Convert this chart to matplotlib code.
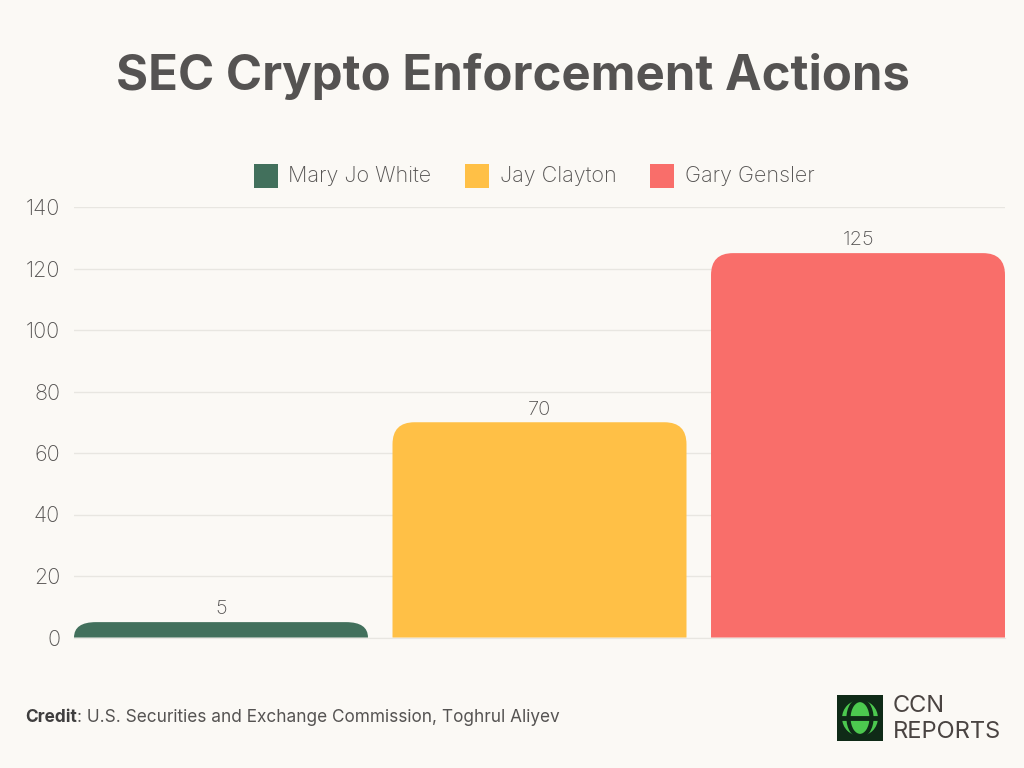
import matplotlib
matplotlib.use("Agg")
import matplotlib.pyplot as plt
from matplotlib.patches import Circle, Ellipse, PathPatch, Rectangle
from matplotlib.path import Path

names = ["Mary Jo White", "Jay Clayton", "Gary Gensler"]
actions = [5, 70, 125]
colors = ["#42705C", "#FFC046", "#F96E6A"]
yticks = [0, 20, 40, 60, 80, 100, 120, 140]

BG = "#FBF9F5"
TEXT = "#555352"
GRID = "#E8E6E1"
FONT = "Inter"

W, H = 1024, 768
plt.rcParams["font.family"] = [FONT, "DejaVu Sans"]


def px_box(left, top, right, bottom):
    """Figure fraction box from pixel edges, y measured from the top."""
    return [left / W, 1 - bottom / H, (right - left) / W, (bottom - top) / H]


def rounded_bar(ax, x, width, height, rx, ry, color):
    """Bar with only the two top corners rounded."""
    ry = min(ry, height)
    left, right = x - width / 2, x + width / 2
    verts = [(left, 0), (left, height - ry), (left, height), (left + rx, height),
             (right - rx, height), (right, height), (right, height - ry),
             (right, 0), (left, 0)]
    codes = [Path.MOVETO, Path.LINETO, Path.CURVE3, Path.CURVE3,
             Path.LINETO, Path.CURVE3, Path.CURVE3,
             Path.LINETO, Path.CLOSEPOLY]
    ax.add_patch(PathPatch(Path(verts, codes), facecolor=color, edgecolor="none", zorder=3))


fig = plt.figure(figsize=(W / 100, H / 100), dpi=100, facecolor=BG)
ax = fig.add_axes(px_box(74, 207, 1005, 637.5), facecolor=BG)

bar_width = 0.923
ax.set_xlim(-bar_width / 2, 2 + bar_width / 2)
ax.set_ylim(0, 140)
px_x = (2 + bar_width) / 931
px_y = 140 / 430.5
for i, (value, color) in enumerate(zip(actions, colors)):
    rounded_bar(ax, i, bar_width, value, 22 * px_x, 22 * px_y, color)
    ax.text(i, value + 1.2, str(value), ha="center", va="bottom", fontsize=14.5,
            color=TEXT, fontweight="light")

ax.set_yticks(yticks)
ax.set_xticks([])
ax.tick_params(axis="y", length=0, pad=10, labelsize=15.5, labelcolor=TEXT)
for label in ax.get_yticklabels():
    label.set_fontweight("light")
ax.grid(axis="y", color=GRID, linewidth=1, zorder=0)
for side in ["top", "right", "left"]:
    ax.spines[side].set_visible(False)
ax.spines["bottom"].set_color(GRID)
ax.set_axisbelow(True)

fig.text(512.5 / W, 1 - 77 / H, "SEC Crypto Enforcement Actions", ha="center", va="center",
         fontsize=35.3, fontweight="bold", color=TEXT)

# legend is placed by hand so the swatches sit at fixed spots
legend_swatch_x = [254, 465, 650]
legend_text_x = [288, 500, 685]
for name, color, sx, tx in zip(names, colors, legend_swatch_x, legend_text_x):
    fig.add_artist(Rectangle((sx / W, 1 - 187.5 / H), 24 / W, 24 / H, transform=fig.transFigure,
                             facecolor=color, edgecolor="none"))
    fig.text(tx / W, 1 - 176 / H, name, ha="left", va="center", fontsize=15.5,
             color=TEXT, fontweight="light")

credit = fig.text(25 / W, 1 - 718 / H, "Credit", ha="left", va="center", fontsize=12.4,
                  fontweight="bold", color="#3F3E3E")
fig.canvas.draw()
ax.annotate(": U.S. Securities and Exchange Commission, Toghrul Aliyev", xy=(1, 0.5),
            xycoords=credit, va="center", ha="left", fontsize=12.4, color=TEXT,
            annotation_clip=False)

# logo block
logo = fig.add_axes(px_box(837, 695, 883, 741), facecolor="#0F2A17")
logo.set_xlim(-1, 1)
logo.set_ylim(-1, 1)
logo.axis("off")
logo.add_patch(Rectangle((-1, -1), 2, 2, facecolor="#0F2A17", edgecolor="none"))
logo.add_patch(Circle((0, 0), 0.78, facecolor="#4CC94F", edgecolor="none"))
logo.add_patch(Ellipse((0, 0), 1.0, 1.56, facecolor="none", edgecolor="#0F2A17", linewidth=3))
logo.plot([-0.85, 0.85], [0, 0], color="#0F2A17", linewidth=3.5)

fig.text(893 / W, 1 - 706.5 / H, "CCN", ha="left", va="center", fontsize=17, color="#4A4442")
fig.text(893 / W, 1 - 732.5 / H, "REPORTS", ha="left", va="center", fontsize=17, color="#4A4442")

fig.savefig("out.png", dpi=100, facecolor=BG)
